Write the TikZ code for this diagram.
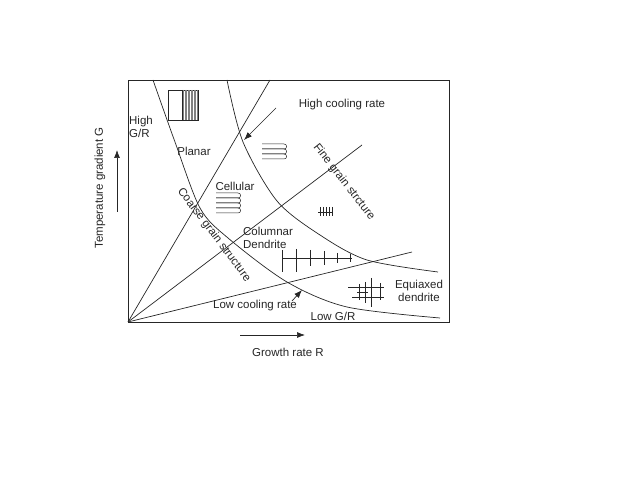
\documentclass[tikz,border=0pt]{standalone}
\usepackage{fontspec}
\setmainfont{Liberation Sans}
\usetikzlibrary{arrows.meta}
\begin{document}
\begin{tikzpicture}[x=1pt,y=-1pt,line width=0.7pt,color=black!85,
  lbl/.style={font=\fontsize{11.5}{13}\selectfont,inner sep=0pt,align=left},
  arr/.style={-{Latex[length=8pt,width=6pt]}},
  thin/.style={line width=0.5pt}]
\useasboundingbox (0,0) rectangle (638,478);
\draw (128,80) rectangle (449,322);
\coordinate (O) at (128,322);
\coordinate (t1) at (270,80);
\coordinate (t2) at (362,145);
\coordinate (t3) at (412,252);
\draw (O) -- (t1); \draw (O) -- (t2); \draw (O) -- (t3);
\draw plot[smooth] coordinates {(153,80)(175,142)(200,208)(228,238)(287,282)(347,307)(440,318)};
\draw plot[smooth] coordinates {(227,80)(243,142)(277,201)(320,235)(367,260)(438,272)};
% arrows
\coordinate (h1) at (276,108); \coordinate (h2) at (244,140);
\draw[arr] (h1) -- (h2);
\coordinate (l1) at (292,301); \coordinate (l2) at (302,290);
\draw[arr] (l1) -- (l2);
\coordinate (ay1) at (117,212); \coordinate (ay2) at (117,150);
\draw[arr] (ay1) -- (ay2);
\coordinate (ax1) at (240,335); \coordinate (ax2) at (305,335);
\draw[arr] (ax1) -- (ax2);
% texts
\node[lbl,rotate=90] (yl) at (100,188) {Temperature gradient G};
\node[lbl] (xl) at (288,352) {Growth rate R};
\node[lbl] (hgr) at (141,127) {High\\G/R};
\node[lbl] (pl) at (194,151) {Planar};
\node[lbl] (ce) at (235,186) {Cellular};
\node[lbl] (co) at (268,238) {Columnar\\Dendrite};
\node[lbl,align=center] (eq) at (419,291) {Equiaxed\\dendrite};
\node[lbl] (lcr) at (255,306) {Low cooling rate};
\node[lbl] (lgr) at (333,316) {Low G/R};
\node[lbl] (hcr) at (342,105) {High cooling rate};
\node[lbl,rotate=-53] (cg) at (214,235) {Coarse grain structure};
\node[lbl,rotate=-52] (fg) at (344,182) {Fine grain strcture};
% planar icon
\draw[fill=white,thin] (168,90) rectangle (198,120);
\foreach \x in {183.5,185,...,197} \draw[line width=0.3pt,gray] (\x,90) -- (\x,120);
\draw[thin] (182,90) -- (182,120);
% cellular icons
\foreach \y in {144,149,154} {\draw[thin] (262,\y) -- (284,\y) .. controls (287.5,\y) and (287.5,\y+5) .. (284,\y+5) -- (262,\y+5);}
\foreach \y in {193,198,203,208} {\draw[thin] (216,\y) -- (238,\y) .. controls (241.5,\y) and (241.5,\y+5) .. (238,\y+5) -- (216,\y+5);}
% small dendrite
\draw[thin] (318,212) -- (333,212);
\foreach \x in {320,323,326,329,332} \draw[thin] (\x,207) -- (\x,216);
% columnar dendrite
\draw[thin] (282,258) -- (352,258);
\draw[thin] (282,250) -- (282,272);
\draw[thin] (296,249) -- (296,272);
\foreach \x/\h in {310/8,324/7,337/5,350/4} \draw[thin] (\x,258-\h) -- (\x,258+\h);
% equiaxed
\draw[thin] (348,287) -- (384,287);
\draw[thin] (352,297) -- (384,297);
\draw[thin] (371,278) -- (371,307);
\draw[thin] (365,282) -- (365,303);
\draw[thin] (359,284) -- (359,300);
\draw[thin] (380,283) -- (380,300);
\draw[thin] (357,292) -- (368,292);
\end{tikzpicture}
\end{document}
